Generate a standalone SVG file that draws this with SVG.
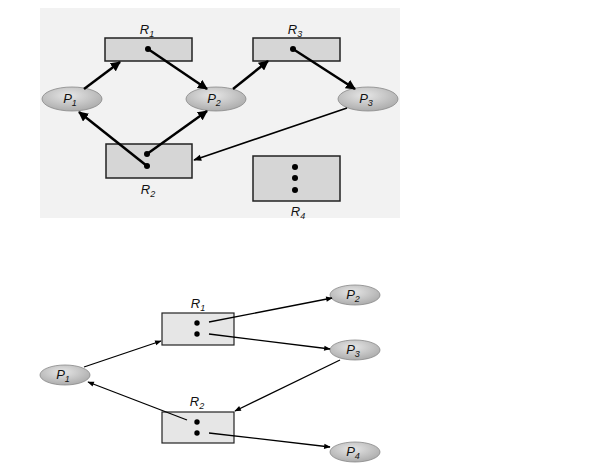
<svg xmlns="http://www.w3.org/2000/svg" width="615" height="476" viewBox="0 0 615 476">
<defs>
<radialGradient id="g" cx="0.45" cy="0.35" r="0.7"><stop offset="0" stop-color="#e6e6e6"/><stop offset="1" stop-color="#a8a8a8"/></radialGradient>
<marker id="a" viewBox="0 0 10 10" refX="9" refY="5" markerWidth="4" markerHeight="4" orient="auto"><path d="M0,0L10,5L0,10z" fill="#000"/></marker>
<marker id="b" viewBox="0 0 10 10" refX="9" refY="5" markerWidth="6" markerHeight="5" orient="auto"><path d="M0,1L10,5L0,9z" fill="#000"/></marker>
</defs>
<style>
.r{fill:#d6d6d6;stroke:#222;stroke-width:1.5}
.r2{fill:#e6e6e6;stroke:#222;stroke-width:1.2}
.p{fill:url(#g);stroke:#888;stroke-width:0.8}
.t{font-family:"Liberation Sans",sans-serif;font-style:italic;font-size:13px;fill:#111;text-anchor:middle}
.s{font-size:9px}
.c1{stroke:#000;stroke-width:2.5;fill:none;marker-end:url(#a)}
.c2{stroke:#000;stroke-width:1.3;fill:none;marker-end:url(#b)}
</style>
<rect width="615" height="476" fill="#fff"/>
<rect x="40" y="8" width="360" height="210" fill="#f2f2f2"/>
<g id="R1"><rect class="r" x="105" y="38" width="87" height="23"/><circle cx="148" cy="49" r="3"/><text class="t" x="147" y="34">R<tspan class="s" dy="3">1</tspan></text></g>
<g id="R3"><rect class="r" x="253" y="38" width="87" height="23"/><circle cx="293" cy="49" r="3"/><text class="t" x="295" y="34">R<tspan class="s" dy="3">3</tspan></text></g>
<g id="R2"><rect class="r" x="106" y="144" width="86" height="34"/><circle cx="147" cy="154" r="3"/><circle cx="147" cy="166" r="3"/><text class="t" x="148" y="194">R<tspan class="s" dy="3">2</tspan></text></g>
<g id="R4"><rect class="r" x="253" y="156" width="87" height="45"/><circle cx="295" cy="167" r="3"/><circle cx="295" cy="178" r="3"/><circle cx="295" cy="190" r="3"/><text class="t" x="298" y="216">R<tspan class="s" dy="3">4</tspan></text></g>
<g id="P1"><ellipse class="p" cx="72" cy="99" rx="30" ry="12"/><text class="t" x="70" y="103">P<tspan class="s" dy="3">1</tspan></text></g>
<g id="P2"><ellipse class="p" cx="216" cy="99" rx="30" ry="12"/><text class="t" x="214" y="103">P<tspan class="s" dy="3">2</tspan></text></g>
<g id="P3"><ellipse class="p" cx="368" cy="99" rx="30" ry="12"/><text class="t" x="366" y="103">P<tspan class="s" dy="3">3</tspan></text></g>
<g id="B_R1"><rect class="r2" x="162" y="313" width="72" height="32"/><circle cx="197" cy="323" r="2.7"/><circle cx="197" cy="334" r="2.7"/><text class="t" x="198" y="308">R<tspan class="s" dy="3">1</tspan></text></g>
<g id="B_R2"><rect class="r2" x="162" y="412" width="72" height="31"/><circle cx="197" cy="422" r="2.7"/><circle cx="197" cy="433" r="2.7"/><text class="t" x="197" y="406">R<tspan class="s" dy="3">2</tspan></text></g>
<g id="B_P1"><ellipse class="p" cx="65" cy="375" rx="25" ry="10"/><text class="t" x="63" y="379">P<tspan class="s" dy="3">1</tspan></text></g>
<g id="B_P2"><ellipse class="p" cx="355" cy="295" rx="25" ry="10"/><text class="t" x="353" y="299">P<tspan class="s" dy="3">2</tspan></text></g>
<g id="B_P3"><ellipse class="p" cx="355" cy="350" rx="25" ry="10"/><text class="t" x="353" y="354">P<tspan class="s" dy="3">3</tspan></text></g>
<g id="B_P4"><ellipse class="p" cx="355" cy="452" rx="25" ry="10"/><text class="t" x="353" y="456">P<tspan class="s" dy="3">4</tspan></text></g>
<g id="connectors">
<line class="c1" x1="84" y1="89" x2="120" y2="62"/>
<line class="c1" x1="148" y1="49" x2="207" y2="89"/>
<line class="c1" x1="233" y1="89" x2="268" y2="61"/>
<line class="c1" x1="293" y1="49" x2="355" y2="89"/>
<line class="c1" x1="147" y1="166" x2="79" y2="112"/>
<line class="c1" x1="147" y1="154" x2="207" y2="111"/>
<line class="c2" style="stroke-width:1.6" x1="347" y1="108" x2="194" y2="160"/>
<line class="c2" x1="84" y1="367" x2="161" y2="341"/>
<line class="c2" x1="209" y1="322" x2="332" y2="298"/>
<line class="c2" x1="209" y1="334" x2="330" y2="349"/>
<line class="c2" x1="340" y1="360" x2="235" y2="411"/>
<line class="c2" x1="187" y1="420" x2="88" y2="382"/>
<line class="c2" x1="209" y1="433" x2="330" y2="447"/>
</g>
</svg>
